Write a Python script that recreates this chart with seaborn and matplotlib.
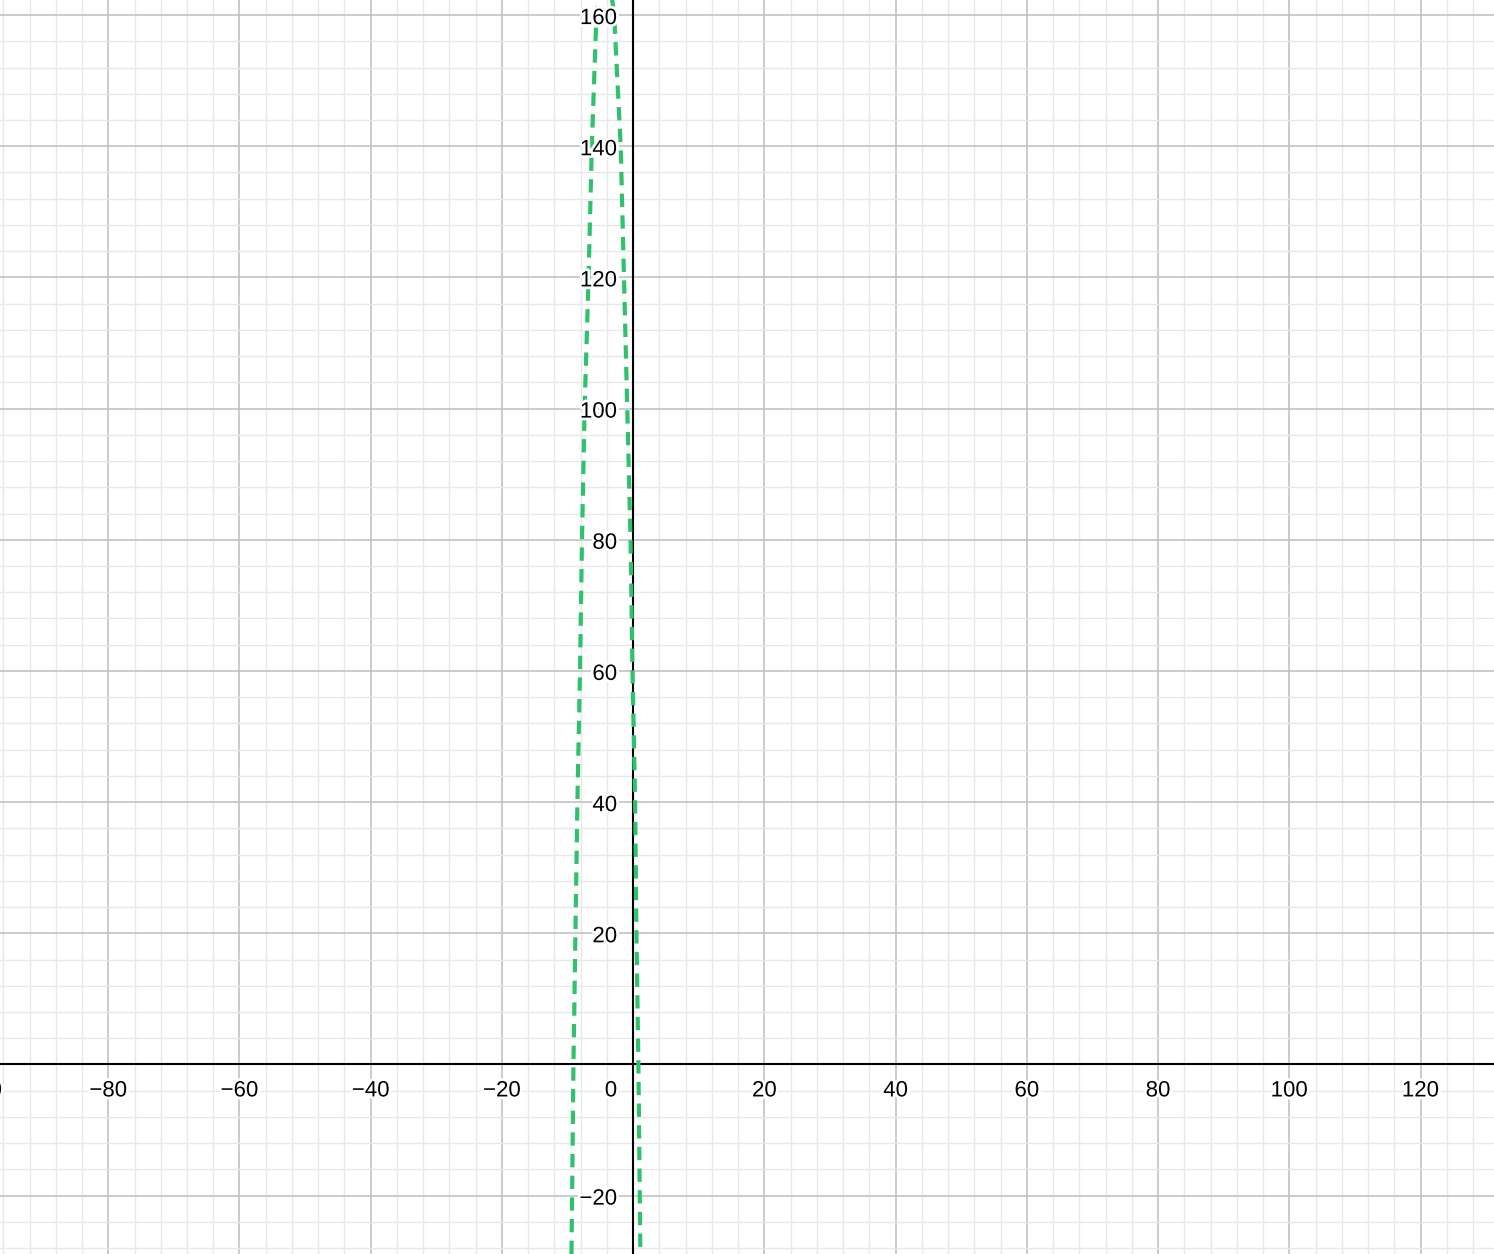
import matplotlib
matplotlib.use("Agg")
import matplotlib.pyplot as plt
import matplotlib.patheffects as pe
from matplotlib.transforms import offset_copy
import seaborn as sns

# Values (parabola opening downward, vertex above the top edge)
curve_x = [-9.4, -9.1, -8.8, -8.5, -8.1, -7.8, -7.4, -6.8, -6.3, -5.6, -4.2,
           -2.9, -1.9, -1.4, -0.9, -0.4, -0.1, 0.3, 0.5, 0.8, 1.1]
curve_y = [-28.9, 0, 20, 40, 60, 80, 100, 120, 140, 160, 170,
           160, 140, 120, 100, 80, 60, 40, 20, 0, -28.9]

x_ticks = [-100, -80, -60, -40, -20, 20, 40, 60, 80, 100, 120]
y_ticks = [-20, 20, 40, 60, 80, 100, 120, 140, 160]

COLORS = {
    'curve': '#2dc26b',
    'major': '#c2c2c2',
    'minor': '#e8e8e8',
    'axis': '#000000',
}

sns.set_style("white")
plt.rcParams['font.family'] = ['Liberation Sans', 'DejaVu Sans']

fig = plt.figure(figsize=(14.94, 12.54), dpi=100)
ax = fig.add_axes([0, 0, 1, 1])

sns.lineplot(x=curve_x, y=curve_y, sort=False, estimator=None, ax=ax,
             color=COLORS['curve'], lw=3.0, linestyle=(0, (3.2, 2.0)), zorder=3)

# grid: major every 20, minor every 4
ax.set_xticks(range(-100, 141, 20))
ax.set_yticks(range(-40, 181, 20))
ax.set_xticks(range(-100, 141, 4), minor=True)
ax.set_yticks(range(-40, 181, 4), minor=True)
ax.set_xlim(-96.5, 131.2)
ax.set_ylim(-28.9, 162.3)
ax.grid(which='minor', color=COLORS['minor'], lw=1.0, zorder=0)
ax.grid(which='major', color=COLORS['major'], lw=1.2, zorder=0)
ax.set_axisbelow(True)
ax.tick_params(which='both', length=0, labelbottom=False, labelleft=False)
for s in ax.spines.values():
    s.set_visible(False)

ax.axhline(0, color=COLORS['axis'], lw=1.5, zorder=2)
ax.axvline(0, color=COLORS['axis'], lw=1.5, zorder=2)

halo = [pe.withStroke(linewidth=4, foreground='white')]
fs = 16

tr_x = offset_copy(ax.transData, fig=fig, x=0, y=-32, units='dots')
for xt in x_ticks:
    lab = f"\u2212{abs(xt)}" if xt < 0 else str(xt)
    ax.text(xt, 0, lab, transform=tr_x, ha='center', va='baseline', color='black',
            fontsize=fs, path_effects=halo, zorder=5, clip_on=False)

tr_y = offset_copy(ax.transData, fig=fig, x=-16, y=-9, units='dots')
for yt in y_ticks:
    lab = f"\u2212{abs(yt)}" if yt < 0 else str(yt)
    ax.text(0, yt, lab, transform=tr_y, ha='right', va='baseline', color='black',
            fontsize=fs, path_effects=halo, zorder=5)

tr_0 = offset_copy(ax.transData, fig=fig, x=-16, y=-32, units='dots')
ax.text(0, 0, "0", transform=tr_0, ha='right', va='baseline', color='black',
        fontsize=fs, path_effects=halo, zorder=5)

fig.savefig("out.png", dpi=100)
